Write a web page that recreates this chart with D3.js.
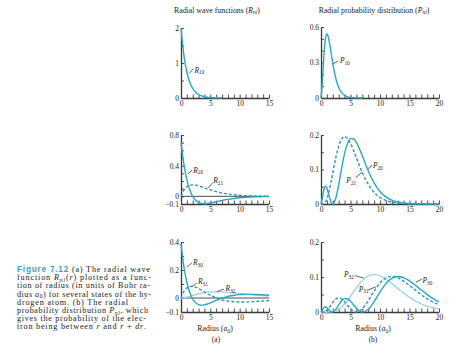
<!DOCTYPE html>
<html><head><meta charset="utf-8">
<script src="https://cdn.jsdelivr.net/npm/d3@7/dist/d3.min.js"></script>
<style>body{margin:0;background:#fff}svg{display:block}</style>
</head><body>
<script>
// ---------------- DATA ----------------
// radius samples (Bohr radii)
const r10 = [0,0.5,1,1.5,2,2.5,3,3.5,4,4.5,5,5.5,6,6.5,7];
const R10 = [2,1.213,0.736,0.446,0.271,0.164,0.100,0.060,0.037,0.022,0.013,0.008,0.005,0.003,0.002];

const rP10 = [0,0.25,0.5,0.75,1,1.25,1.5,1.75,2,2.25,2.5,2.75,3,3.5,4,4.5,5,6,7];
const P10 = [0,0.152,0.368,0.502,0.541,0.513,0.448,0.370,0.293,0.225,0.168,0.124,0.089,0.045,0.021,0.010,0.005,0.001,0];

const rN2 = [0,0.5,1,1.5,2,2.5,3,3.5,4,4.5,5,5.5,6,6.5,7,7.5,8,9,10,11,12,13,14,15];
const R20 = [0.707,0.413,0.214,0.084,0,-0.051,-0.079,-0.092,-0.096,-0.093,-0.087,-0.079,-0.070,-0.062,-0.053,-0.046,-0.039,-0.028,-0.019,-0.013,-0.009,-0.006,-0.004,-0.003];
const R21 = [0,0.080,0.124,0.145,0.150,0.146,0.137,0.124,0.111,0.097,0.084,0.072,0.061,0.052,0.043,0.036,0.030,0.020,0.014,0.009,0.006,0.004,0.003,0.002];

const rPN2 = [0,0.25,0.5,0.75,1,1.25,1.5,1.75,2,2.5,3,3.5,4,4.5,5,5.5,6,6.5,7,7.5,8,8.5,9,9.5,10,11,12,13,14,15,16,17,18,19,20];
const P20 = [0,0.0186,0.0427,0.0519,0.0460,0.0315,0.0157,0.0042,0,0.0160,0.0560,0.1040,0.1465,0.1758,0.1895,0.1893,0.1785,0.1607,0.1396,0.1176,0.0966,0.0777,0.0612,0.0475,0.0363,0.0205,0.0111,0.0058,0.0029,0.0015,0.0007,0.0003,0.0002,0.0001,0];
const P21 = [0,0.0001,0.0016,0.0062,0.0153,0.0291,0.0471,0.0679,0.0902,0.1336,0.1681,0.1888,0.1954,0.1898,0.1755,0.1558,0.1339,0.1118,0.0912,0.0729,0.0573,0.0443,0.0337,0.0254,0.0189,0.0102,0.0053,0.0027,0.0013,0.0007,0.0003,0.0001,0.0001,0,0];

const rN3 = [0,0.5,1,1.5,2,2.5,3,3.5,4,4.5,5,5.5,6,6.5,7,7.5,8,8.5,9,9.5,10,10.5,11,11.5,12,12.5,13,13.5,14,14.5,15];
const R30 = [0.385,0.223,0.112,0.039,-0.007,-0.034,-0.047,-0.051,-0.049,-0.043,-0.035,-0.026,-0.017,-0.009,-0.001,0.005,0.011,0.016,0.019,0.022,0.024,0.025,0.026,0.026,0.026,0.025,0.025,0.024,0.022,0.021,0.020];
const R31 = [0,0.047,0.072,0.083,0.083,0.077,0.067,0.055,0.043,0.030,0.019,0.009,0,-0.008,-0.014,-0.019,-0.022,-0.025,-0.027,-0.028,-0.029,-0.029,-0.028,-0.028,-0.027,-0.025,-0.024,-0.023,-0.021,-0.020,-0.018];
const R32 = [0,0.002,0.006,0.012,0.019,0.024,0.030,0.034,0.038,0.041,0.043,0.044,0.044,0.044,0.043,0.042,0.040,0.038,0.036,0.034,0.032,0.030,0.028,0.026,0.024,0.022,0.020,0.018,0.017,0.015,0.014];

const rPN3 = [0,0.25,0.5,0.75,1,1.25,1.5,1.75,2,2.5,3,3.5,4,4.5,5,5.5,6,6.5,7,7.5,8,8.5,9,9.5,10,10.5,11,11.5,12,12.5,13,13.5,14,14.5,15,16,17,18,19,20];
const P30 = [0,0.0055,0.0125,0.0148,0.0126,0.0080,0.0034,0.0005,0.0002,0.0073,0.0201,0.0319,0.0382,0.0373,0.0306,0.0208,0.0109,0.0034,0.0001,0.0016,0.0076,0.0174,0.0297,0.0434,0.0571,0.0699,0.0810,0.0898,0.0962,0.1001,0.1015,0.1008,0.0982,0.0942,0.0890,0.0764,0.0628,0.0498,0.0383,0.0287];
const P31 = [0,0,0.0006,0.0022,0.0052,0.0097,0.0153,0.0214,0.0274,0.0367,0.0401,0.0370,0.0289,0.0187,0.0091,0.0024,0,0.0024,0.0092,0.0195,0.0322,0.0459,0.0595,0.0720,0.0828,0.0912,0.0972,0.1007,0.1018,0.1008,0.0980,0.0937,0.0884,0.0823,0.0757,0.0621,0.0492,0.0378,0.0282,0.0206];
const P32 = [0,0,0,0,0,0.0001,0.0003,0.0007,0.0014,0.0037,0.0080,0.0145,0.0231,0.0336,0.0453,0.0575,0.0695,0.0805,0.0899,0.0975,0.1029,0.1061,0.1071,0.1061,0.1035,0.0993,0.0941,0.0880,0.0814,0.0745,0.0676,0.0607,0.0541,0.0479,0.0420,0.0318,0.0235,0.0170,0.0121,0.0084];

// tick values / labels
const xTicksL = d3.range(0,16), xTicksR = d3.range(0,21);
const yTicksTL = [0,0.5,1,1.5,2],            yLabTL = ["0","","1","","2"];
const yTicksTR = [0,0.1,0.2,0.3,0.4,0.5,0.6], yLabTR = ["0","","","0.3","","","0.6"];
const yTicksML = [-0.1,0,0.1,0.2,0.3,0.4,0.5,0.6,0.7,0.8], yLabML = ["\u22120.1","0","","","","0.4","","","","0.8"];
const yTicksMR = [0,0.05,0.1,0.15,0.2],       yLabMR = ["0","","0.1","","0.2"];
const yTicksBL = [-0.1,0,0.1,0.2,0.3,0.4],    yLabBL = ["\u22120.1","0","","0.2","","0.4"];
const yTicksBR = [0,0.05,0.1,0.15,0.2],       yLabBR = ["0","","0.1","","0.2"];

// ---------------- DRAWING ----------------
const W=474,H=355;
const C_SOLID="#2aa7c7", C_DASH="#2a95ba", C_LIGHT="#9fd6e4", AX="#3a3a3a";
const SERIF="'Liberation Serif','Times New Roman',serif";
const svg=d3.select("body").append("svg").attr("width",W).attr("height",H);

function panel(o){
  const g=svg.append("g");
  const x=d3.scaleLinear().domain([0,o.xmax]).range([o.px0,o.px1]);
  const y=d3.scaleLinear().domain([o.ymin,o.ymax]).range([o.py0,o.py1]);
  if(o.zero){
    g.append("line").attr("x1",x(0)).attr("x2",x(o.xmax)).attr("y1",y(0)).attr("y2",y(0))
     .attr("stroke",AX).attr("stroke-width",0.9);
  }
  const xa=d3.axisBottom(x).tickValues(o.xTicks).tickSizeInner(-3.5).tickSizeOuter(0).tickPadding(3)
     .tickFormat(d=>d%5===0?String(d):"");
  const gx=g.append("g").attr("transform",`translate(0,${y(o.ymin)})`).call(xa);
  const ya=d3.axisLeft(y).tickValues(o.yTicks).tickSizeInner(-3).tickSizeOuter(0).tickPadding(2)
     .tickFormat((d,i)=>o.yLab[i]);
  const gy=g.append("g").attr("transform",`translate(${x(0)},0)`).call(ya);
  [gx,gy].forEach(a=>{
    a.attr("font-family",SERIF).attr("font-size",7.5);
    a.select(".domain").attr("stroke",AX).attr("stroke-width",1.3);
    a.selectAll(".tick line").attr("stroke",AX).attr("stroke-width",0.9);
    a.selectAll(".tick text").attr("fill","#222");
  });
  const line=d3.line().x(d=>x(d[0])).y(d=>y(d[1])).curve(d3.curveMonotoneX);
  o.series.forEach(s=>{
    g.append("path").datum(d3.zip(s.r,s.v)).attr("d",line).attr("fill","none")
     .attr("stroke",s.c).attr("stroke-width",s.w||1.4).attr("stroke-dasharray",s.dash||null);
  });
  (o.notes||[]).forEach(n=>{
    g.append("line").attr("x1",x(n.l[0])).attr("y1",y(n.l[1])).attr("x2",x(n.l[2])).attr("y2",y(n.l[3]))
     .attr("stroke","#333").attr("stroke-width",0.8);
    const t=g.append("text").attr("x",x(n.t[0])).attr("y",y(n.t[1])).attr("font-family",SERIF).attr("font-size",7.5).attr("fill","#222");
    t.append("tspan").attr("font-style","italic").text(n.main);
    t.append("tspan").attr("font-size",5.2).attr("dy",1.6).text(n.sub);
  });
  return {x,y};
}

// top-left R10
panel({xmax:15,px0:181,px1:269,ymin:0,ymax:2,py0:98,py1:28,xTicks:xTicksL,yTicks:yTicksTL,yLab:yLabTL,
  series:[{r:r10,v:R10,c:C_SOLID}],
  notes:[{l:[1.4,0.7,2.1,0.84],t:[2.3,0.72],main:"R",sub:"10"}]});
// top-right P10
panel({xmax:20,px0:321,px1:439,ymin:0,ymax:0.6,py0:98,py1:27,xTicks:xTicksR,yTicks:yTicksTR,yLab:yLabTR,
  series:[{r:rP10,v:P10,c:C_SOLID}],
  notes:[{l:[2.03,0.29,2.85,0.31],t:[3.2,0.296],main:"P",sub:"10"}]});
// mid-left R20,R21
panel({xmax:15,px0:181,px1:269,ymin:-0.1,ymax:0.8,py0:204,py1:135,zero:true,xTicks:xTicksL,yTicks:yTicksML,yLab:yLabML,
  series:[{r:rN2,v:R21,c:C_DASH,dash:"3,2"},{r:rN2,v:R20,c:C_SOLID}],
  notes:[{l:[1.2,0.29,1.9,0.345],t:[2.1,0.31],main:"R",sub:"20"},
         {l:[4.6,0.11,5.4,0.175],t:[5.5,0.17],main:"R",sub:"21"}]});
// mid-right P20,P21
panel({xmax:20,px0:321,px1:439,ymin:0,ymax:0.2,py0:204,py1:135,xTicks:xTicksR,yTicks:yTicksMR,yLab:yLabMR,
  series:[{r:rPN2,v:P21,c:C_DASH,dash:"3,2"},{r:rPN2,v:P20,c:C_SOLID}],
  notes:[{l:[7.97,0.1,8.64,0.113],t:[8.8,0.104],main:"P",sub:"20"},
         {l:[5.9,0.076,6.95,0.092],t:[4.3,0.06],main:"P",sub:"21"}]});
// bottom-left R30,R31,R32
panel({xmax:15,px0:181,px1:269,ymin:-0.1,ymax:0.4,py0:312,py1:242,zero:true,xTicks:xTicksL,yTicks:yTicksBL,yLab:yLabBL,
  series:[{r:rN3,v:R32,c:C_LIGHT},{r:rN3,v:R31,c:C_DASH,dash:"3,2"},{r:rN3,v:R30,c:C_SOLID}],
  notes:[{l:[1.0,0.22,1.85,0.25],t:[2.05,0.235],main:"R",sub:"30"},
         {l:[1.85,0.079,2.7,0.107],t:[2.9,0.1],main:"R",sub:"31"},
         {l:[6.1,0.045,7.3,0.064],t:[7.6,0.05],main:"R",sub:"32"}]});
// bottom-right P30,P31,P32
panel({xmax:20,px0:321,px1:439,ymin:0,ymax:0.2,py0:312,py1:242,xTicks:xTicksR,yTicks:yTicksBR,yLab:yLabBR,
  series:[{r:rPN3,v:P32,c:C_LIGHT},{r:rPN3,v:P31,c:C_DASH,dash:"3,2"},{r:rPN3,v:P30,c:C_SOLID}],
  notes:[{l:[5.76,0.104,7.2,0.097],t:[3.9,0.1],main:"P",sub:"32"},
         {l:[8.0,0.063,9.3,0.072],t:[6.4,0.058],main:"P",sub:"31"},
         {l:[16.1,0.085,17.1,0.094],t:[17.2,0.083],main:"P",sub:"30"}]});

// titles & axis captions
function rich(x,y,parts,anchor,size){
  const t=svg.append("text").attr("x",x).attr("y",y).attr("font-family",SERIF).attr("font-size",size||7)
    .attr("fill","#222").attr("text-anchor",anchor||"start");
  let shift=0;
  parts.forEach(p=>{
    const s=t.append("tspan").text(p.t);
    if(p.i) s.attr("font-style","italic");
    if(p.b) s.attr("font-family","'Liberation Sans',Arial,sans-serif").attr("font-weight","bold").attr("fill",p.c);
    const want=p.sub?1.6:0;
    if(want!==shift){ s.attr("dy",want-shift); shift=want; }
    if(p.sub) s.attr("font-size",(size||7)*0.7);
  });
  return t;
}
rich(217,12.5,[{t:"Radial wave functions ("},{t:"R",i:1},{t:"nl",i:1,sub:1},{t:")"}],"middle",7.8);
rich(374,12.5,[{t:"Radial probability distribution ("},{t:"P",i:1},{t:"nl",i:1,sub:1},{t:")"}],"middle",7.8);
rich(215,331,[{t:"Radius ("},{t:"a",i:1},{t:"0",sub:1},{t:")"}],"middle",7.8);
rich(373,331,[{t:"Radius ("},{t:"a",i:1},{t:"0",sub:1},{t:")"}],"middle",7.8);
rich(216,341.5,[{t:"(a)"}],"middle",7.5);
rich(373,341.5,[{t:"(b)"}],"middle",7.5);

// figure caption
const cap=[
 [{t:"Figure 7.12",b:1,c:"#2f9fd3"},{t:"  (a) The radial wave"}],
 [{t:"function "},{t:"R",i:1},{t:"nl",i:1,sub:1},{t:"("},{t:"r",i:1},{t:") plotted as a func-"}],
 [{t:"tion of radius (in units of Bohr ra-"}],
 [{t:"dius "},{t:"a",i:1},{t:"0",sub:1},{t:") for several states of the hy-"}],
 [{t:"drogen atom. (b) The radial"}],
 [{t:"probability distribution "},{t:"P",i:1},{t:"nl",i:1,sub:1},{t:", which"}],
 [{t:"gives the probability of the elec-"}],
 [{t:"tron being between "},{t:"r",i:1},{t:" and "},{t:"r",i:1},{t:" + "},{t:"dr",i:1},{t:"."}]
];
const capW=[133,134,133,134,111,131,129,129];
cap.forEach((p,i)=>rich(17,272+i*8.2,p,"start",8.2).attr("textLength",capW[i]).attr("lengthAdjust","spacing"));
</script>
</body></html>
